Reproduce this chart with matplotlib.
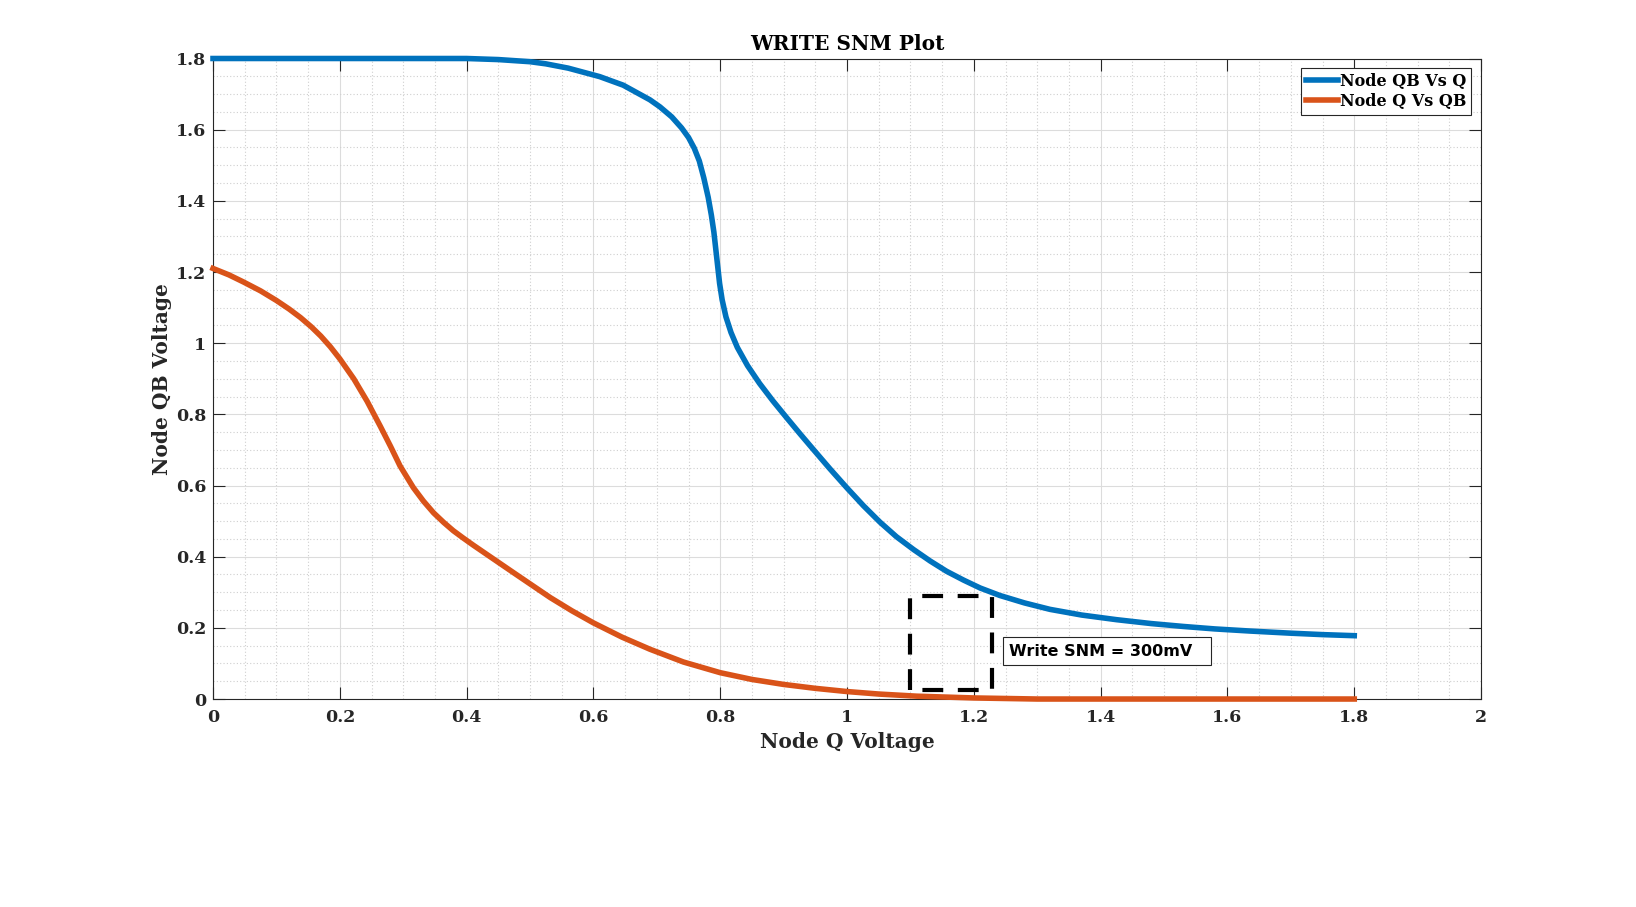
import matplotlib
matplotlib.use("Agg")
import matplotlib.pyplot as plt
from matplotlib.patches import Rectangle
from matplotlib.ticker import MultipleLocator

# Node QB Vs Q
qb_x = [0.0, 0.2, 0.4, 0.45, 0.5, 0.525, 0.56, 0.61, 0.647, 0.689, 0.705,
        0.7235, 0.739, 0.750, 0.759, 0.767, 0.774, 0.781, 0.786, 0.790, 0.793,
        0.796, 0.799, 0.803, 0.809, 0.817, 0.827, 0.843, 0.862, 0.883, 0.905,
        0.926, 0.947, 0.973, 1.0, 1.026, 1.052, 1.078, 1.105, 1.131, 1.157,
        1.184, 1.210, 1.241, 1.28, 1.32, 1.37, 1.425, 1.48, 1.53, 1.58, 1.636,
        1.7, 1.75, 1.8]
qb_y = [1.8, 1.8, 1.8, 1.797, 1.791, 1.785, 1.773, 1.749, 1.725, 1.684, 1.664,
        1.636, 1.605, 1.578, 1.548, 1.512, 1.465, 1.410, 1.360, 1.312, 1.264,
        1.216, 1.168, 1.122, 1.074, 1.030, 0.988, 0.937, 0.887, 0.838, 0.790,
        0.745, 0.701, 0.647, 0.593, 0.543, 0.497, 0.456, 0.420, 0.388, 0.359,
        0.334, 0.312, 0.291, 0.270, 0.252, 0.236, 0.223, 0.212, 0.204, 0.197,
        0.191, 0.185, 0.181, 0.178]

# Node Q Vs QB
q_x = [0.0, 0.025, 0.048, 0.075, 0.1, 0.12, 0.138, 0.155, 0.170, 0.185, 0.200,
       0.222, 0.243, 0.264, 0.280, 0.295, 0.316, 0.332, 0.348, 0.364, 0.379,
       0.395, 0.410, 0.442, 0.479, 0.532, 0.566, 0.600, 0.645, 0.689, 0.742,
       0.800, 0.850, 0.900, 0.950, 1.0, 1.05, 1.110, 1.2, 1.3, 1.8]
q_y = [1.210, 1.192, 1.172, 1.147, 1.120, 1.096, 1.072, 1.046, 1.020, 0.990,
       0.956, 0.900, 0.837, 0.766, 0.710, 0.655, 0.594, 0.556, 0.523, 0.496,
       0.473, 0.452, 0.433, 0.394, 0.349, 0.285, 0.248, 0.214, 0.174, 0.140,
       0.104, 0.074, 0.055, 0.041, 0.030, 0.021, 0.014, 0.008, 0.003, 0.0, 0.0]

# write margin square and its label box
snm_x = [1.1, 1.228]
snm_y = [0.025, 0.29]
label_x = [1.246, 1.574]
label_y = [0.095, 0.174]
snm_text = "Write SNM = 300mV"

serif = "DejaVu Serif"
dark = "#262626"

fig = plt.figure(figsize=(16.36, 9.07), dpi=100)
ax = fig.add_axes([0.1302, 0.2293, 0.7751, 0.7062])

ax.plot(qb_x, qb_y, color="#0072BD", lw=4, label="Node QB Vs Q",
        clip_on=False, zorder=3, solid_joinstyle="round")
ax.plot(q_x, q_y, color="#D95319", lw=4, label="Node Q Vs QB",
        clip_on=False, zorder=3, solid_joinstyle="round")

ax.plot([snm_x[0], snm_x[0], snm_x[1], snm_x[1], snm_x[0]],
        [snm_y[0], snm_y[1], snm_y[1], snm_y[0], snm_y[0]],
        color="black", lw=3, ls=(0, (5, 3.5)), zorder=4)

ax.add_patch(Rectangle((label_x[0], label_y[0]), label_x[1] - label_x[0],
                       label_y[1] - label_y[0], fc="white", ec=dark, lw=0.8,
                       zorder=5))
ax.text(label_x[0] + 0.01, (label_y[0] + label_y[1]) / 2, snm_text,
        fontsize=11.5, fontweight="bold", family="DejaVu Sans",
        va="center", ha="left", zorder=6)

ax.set_xlim(0, 2)
ax.set_ylim(0, 1.8)
ax.xaxis.set_major_locator(MultipleLocator(0.2))
ax.yaxis.set_major_locator(MultipleLocator(0.2))
ax.xaxis.set_minor_locator(MultipleLocator(0.05))
ax.yaxis.set_minor_locator(MultipleLocator(0.05))
ax.set_xticklabels([f"{v:g}" for v in ax.get_xticks()])
ax.set_yticklabels([f"{v:g}" for v in ax.get_yticks()])

ax.grid(which="major", color="#dcdcdc", lw=0.8, ls="-")
ax.grid(which="minor", color="#cfcfcf", lw=0.8, ls=(0, (1, 2)))
ax.set_axisbelow(True)

ax.tick_params(which="major", direction="in", length=8.5, width=0.8,
               color=dark, top=True, right=True)
ax.tick_params(axis="x", which="major", pad=7.5)
ax.tick_params(axis="y", which="major", pad=5)
ax.tick_params(which="minor", length=0)
for lbl in ax.get_xticklabels() + ax.get_yticklabels():
    lbl.set_fontfamily(serif)
    lbl.set_fontweight("bold")
    lbl.set_fontsize(12.5)
    lbl.set_color(dark)
for sp in ax.spines.values():
    sp.set_color(dark)
    sp.set_linewidth(0.8)

ax.set_title("WRITE SNM Plot", family=serif, fontweight="bold",
             fontsize=14.5, color="black", pad=6)
ax.set_xlabel("Node Q Voltage", family=serif, fontweight="bold",
              fontsize=14.5, color=dark, labelpad=4)
ax.set_ylabel("Node QB Voltage", family=serif, fontweight="bold",
              fontsize=14.5, color=dark, labelpad=3)

leg = ax.legend(loc="upper right", prop={"family": serif, "weight": "bold",
                                         "size": 11.5},
                fancybox=False, framealpha=1, edgecolor=dark,
                handlelength=2.0, handletextpad=0.15, borderpad=0.3,
                labelspacing=0.2, borderaxespad=0.6)
leg.get_frame().set_linewidth(0.8)

fig.savefig("out.png", dpi=100)
